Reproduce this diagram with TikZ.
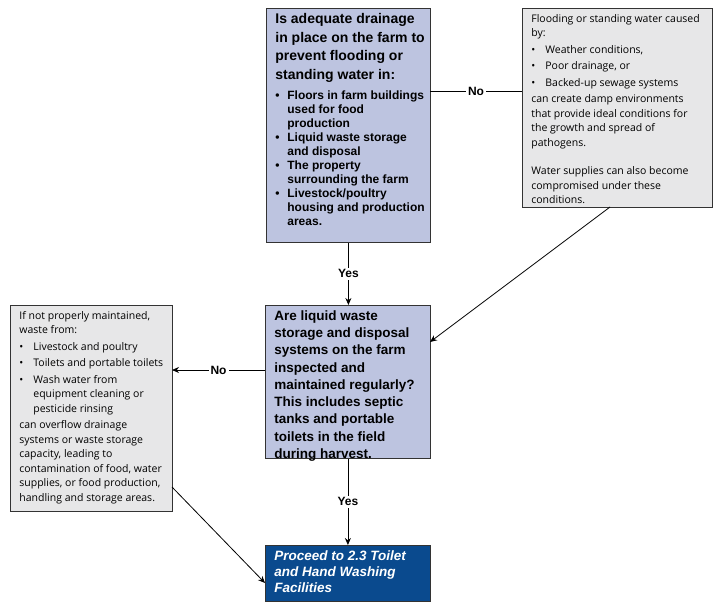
\documentclass[tikz,border=0pt]{standalone}
\usepackage{fontspec}
\setmainfont{Liberation Sans}
\newfontfamily\sidefont{Open Sans}
\usetikzlibrary{arrows.meta}
\definecolor{qblue}{HTML}{BDC4E0}
\definecolor{sgrey}{HTML}{E7E7E8}
\definecolor{dblue}{HTML}{0A4A8E}
\newcommand{\bitem}[1]{\par\noindent\hangindent=12pt\hangafter=1\makebox[12pt][l]{\textbullet}#1}
\newcommand{\sitem}[1]{\par\vspace{2pt}\noindent\hangindent=14pt\hangafter=1\makebox[14pt][l]{\textbullet}#1}
\begin{document}
\begin{tikzpicture}[x=1pt,y=-1pt,
  box/.style={draw=black!80,line width=0.8pt,anchor=north west,inner sep=0pt},
  q/.style={box,fill=qblue},
  s/.style={box,fill=sgrey},
  arr/.style={-{Stealth[length=7pt,width=6pt]},line width=0.8pt},
  lbl/.style={fill=white,font=\bfseries\fontsize{12}{14}\selectfont,inner sep=2pt}]
\useasboundingbox (0,0) rectangle (720,608);
\node[q] (q1) at (266,8) {\parbox[c][234pt][t]{164pt}{\vspace{5pt}\hspace*{9pt}\parbox[t]{150pt}{\raggedright\bfseries
{\fontsize{14}{18.7}\selectfont Is adequate drainage in place on the farm to prevent flooding or standing water in:\par}
\vspace{6pt}\fontsize{12}{14}\selectfont
\bitem{Floors in farm buildings used for food production}
\bitem{Liquid waste storage and disposal}
\bitem{The property surrounding the farm}
\bitem{Livestock/poultry housing and production areas.}}}};
\node[s] (s1) at (522,8) {\parbox[c][199pt][t]{190pt}{\vspace{6pt}\hspace*{9pt}\parbox[t]{172pt}{\raggedright\sidefont\fontsize{10.5}{14.5}\selectfont
Flooding or standing water caused by:
\sitem{Weather conditions,}
\sitem{Poor drainage, or}
\sitem{Backed-up sewage systems}
\par\vspace{2pt}\noindent can create damp environments that provide ideal conditions for the growth and spread of pathogens.\par\vspace{14pt}
\noindent Water supplies can also become compromised under these conditions.}}};
\node[q] (q2) at (265,305) {\parbox[c][153pt][t]{165pt}{\vspace{5pt}\hspace*{9pt}\parbox[t]{152pt}{\raggedright\bfseries\fontsize{13.5}{17.3}\selectfont
Are liquid waste storage and disposal systems on the farm inspected and maintained regularly? This includes septic tanks and portable toilets in the field during harvest.}}};
\node[s] (s2) at (10,305) {\parbox[c][206pt][t]{162pt}{\vspace{6pt}\hspace*{9pt}\parbox[t]{148pt}{\raggedright\sidefont\fontsize{10.5}{14.5}\selectfont
If not properly maintained, waste from:
\sitem{Livestock and poultry}
\sitem{Toilets and portable toilets}
\sitem{Wash water from equipment cleaning or pesticide rinsing}
\par\vspace{2pt}\noindent can overflow drainage systems or waste storage capacity, leading to contamination of food, water supplies, or food production, handling and storage areas.}}};
\node[box,fill=dblue] (f) at (265,545) {\parbox[c][56pt][t]{165pt}{\vspace{5pt}\hspace*{9pt}\parbox[t]{152pt}{\raggedright\color{white}\bfseries\itshape\fontsize{13.5}{16}\selectfont
Proceed to 2.3 Toilet and Hand Washing Facilities}}};
\coordinate (a) at (430,91);
\coordinate (b) at (522,91);
\draw[line width=0.8pt] (a) -- node[lbl]{No} (b);
\draw[arr] (q1.south) -- node[lbl]{Yes} (q1.south |- q2.north);
\coordinate (c) at (610,207);
\coordinate (d) at (430,342);
\draw[arr] (c) -- (d);
\coordinate (e) at (265,370);
\coordinate (g) at (172,370);
\draw[arr] (e) -- node[lbl]{No} (g);
\draw[arr] (q2.south) -- node[lbl]{Yes} (q2.south |- f.north);
\coordinate (h) at (172,487);
\coordinate (i) at (265,583);
\draw[arr] (h) -- (i);
\end{tikzpicture}
\end{document}
